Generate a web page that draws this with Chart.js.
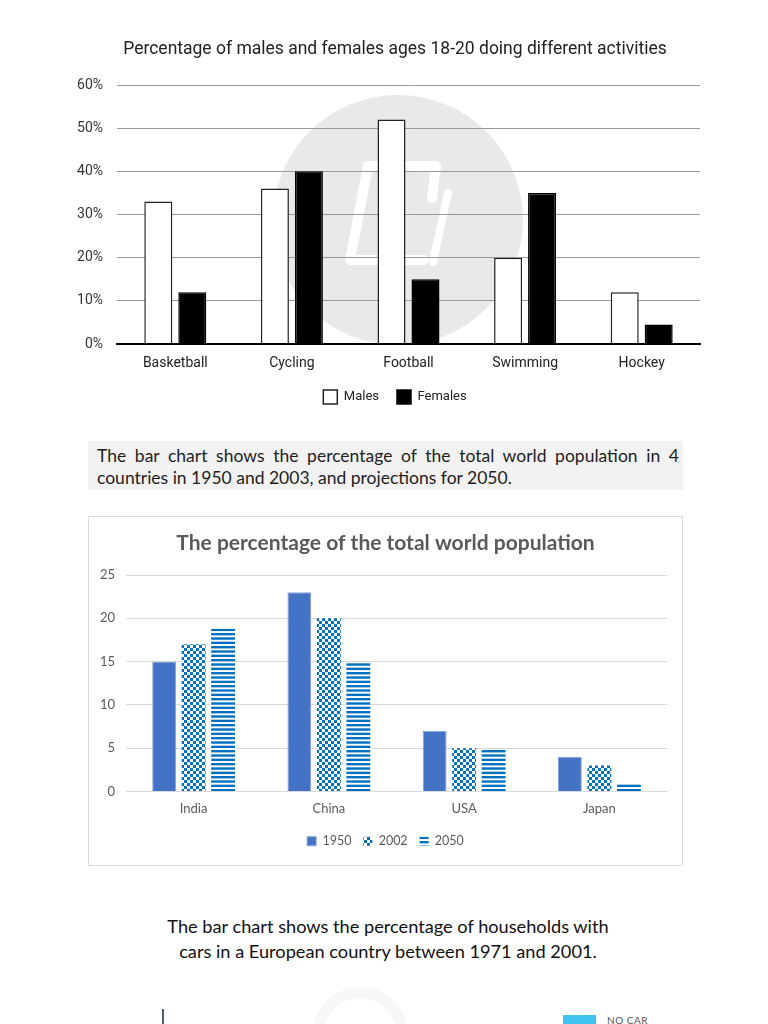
<!DOCTYPE html>
<html>
<head>
<meta charset="utf-8">
<script src="https://cdn.jsdelivr.net/npm/chart.js@4.4.0/dist/chart.umd.min.js"></script>
<style>
  body { margin:0; width:768px; height:1024px; overflow:hidden; background:#fff; position:relative; font-family: Lato, sans-serif; }
  #c1 { position:absolute; left:60px; top:0; }
  #box2 { position:absolute; left:88px; top:441px; width:595px; height:49px; background:#f2f2f2; box-sizing:border-box; padding:4px 4px 0 9px; font:17.5px/22px Lato; color:#1e1e1e; }
  #box2 .l1 { text-align:justify; text-align-last:justify; }
  #c2 { position:absolute; left:88px; top:516px; }
  #frame2 { position:absolute; left:88px; top:516px; width:595px; height:350px; border:1px solid #dcdcdc; box-sizing:border-box; pointer-events:none; }
  #txt3 { position:absolute; left:0; width:776px; top:914px; text-align:center; font:18.2px/25px Lato; color:#111; }
  #axis3 { position:absolute; left:162px; top:1009px; width:2px; height:15px; background:#4f5b6e; }
  #ring3 { position:absolute; left:313px; top:987px; width:95px; height:95px; border-radius:50%; border:11px solid #f7f7f7; box-sizing:border-box; }
  #key3 { position:absolute; left:563px; top:1015px; width:33px; height:12px; background:#41c3f2; }
  #lab3 { position:absolute; left:607px; top:1014px; font:10px Lato; color:#555; letter-spacing:0.5px; }
</style>
</head>
<body>
<canvas id="c1" width="670" height="420"></canvas>

<div id="box2">
  <div class="l1">The bar chart shows the percentage of the total world population in 4</div>
  <div>countries in 1950 and 2003, and projections for 2050.</div>
</div>

<canvas id="c2" width="595" height="350"></canvas>
<div id="frame2"></div>

<div id="txt3">The bar chart shows the percentage of households with<br>cars in a European country between 1971 and 2001.</div>
<div id="ring3"></div>
<div id="axis3"></div>
<div id="key3"></div>
<div id="lab3">NO CAR</div>

<script>
// graf 1 - atividades
const activities = ['Basketball', 'Cycling', 'Football', 'Swimming', 'Hockey'];
const males = [33, 36, 52, 20, 12];
const females = [12, 40, 15, 35, 4.5];
const pctTicks = ['0%', '10%', '20%', '30%', '40%', '50%', '60%'];

// graf 2 - populacao
const countries = ['India', 'China', 'USA', 'Japan'];
const pop1950 = [15, 23, 7, 4];
const pop2002 = [17, 20, 5, 3];
const pop2050 = [18.8, 14.9, 4.9, 0.9];
const popTicks = ['0', '5', '10', '15', '20', '25'];

// marca d'agua atras do grafico 1 (coordenadas da pagina, canvas comeca em x=60)
const watermark = {
    id: 'watermark',
    beforeDraw(chart) {
        const g = chart.ctx;
        g.save();
        g.translate(-60, 0);
        g.fillStyle = '#e9e9e9';
        g.beginPath();
        g.arc(398, 220, 125, 0, Math.PI * 2);
        g.fill();
        g.strokeStyle = '#fff';
        g.lineCap = 'round';
        g.lineJoin = 'round';
        g.lineWidth = 10;
        g.beginPath();
        g.moveTo(432, 198);
        g.lineTo(436, 166);
        g.lineTo(368, 166);
        g.lineTo(350, 260);
        g.lineTo(424, 260);
        g.stroke();
        g.lineWidth = 8;
        g.beginPath();
        g.moveTo(448, 193);
        g.lineTo(433, 262);
        g.stroke();
        g.restore();
    }
};

// eixo invisivel na direita so pra reservar espaco e deixar titulo/legenda centralizados
function spacer(w) {
    return {
        position: 'right',
        display: true,
        afterFit: s => { s.width = w; },
        grid: { display: false, drawTicks: false },
        border: { display: false },
        ticks: { display: false }
    };
}

var chart1 = new Chart(document.getElementById('c1').getContext('2d'), {
    type: 'bar',
    data: {
        labels: activities,
        datasets: [{
            label: 'Males',
            data: males,
            backgroundColor: '#ffffff',
            borderColor: '#222',
            borderWidth: 1.5,
            barPercentage: 0.824,
            categoryPercentage: 0.583
        }, {
            label: 'Females',
            data: females,
            backgroundColor: '#000000',
            borderColor: '#000',
            borderWidth: 1.5,
            barPercentage: 0.824,
            categoryPercentage: 0.583
        }]
    },
    options: {
        responsive: false,
        animation: false,
        devicePixelRatio: 1,
        layout: { padding: { left: 0, right: 0, top: 0, bottom: 6 } },
        plugins: {
            title: {
                display: true,
                text: 'Percentage of males and females ages 18-20 doing different activities',
                color: '#222',
                font: { family: 'Roboto', size: 17.5, weight: 'normal' },
                padding: { top: 39, bottom: 25 }
            },
            legend: {
                position: 'bottom',
                labels: {
                    color: '#222',
                    font: { family: 'Roboto', size: 13 },
                    boxWidth: 14,
                    boxHeight: 14,
                    padding: 18
                }
            },
            tooltip: { enabled: false }
        },
        scales: {
            x: {
                afterFit: s => { s.height = 28; },
                grid: { display: false, drawTicks: false },
                border: { color: '#000', width: 2 },
                ticks: { color: '#222', font: { family: 'Roboto', size: 14 }, padding: 11 }
            },
            y: {
                min: 0,
                max: 60,
                afterFit: s => { s.width = 57; },
                border: { display: false },
                grid: {
                    drawTicks: false,
                    color: c => c.tick.value === 0 ? '#000' : '#9a9a9a',
                    lineWidth: c => c.tick.value === 0 ? 2 : 1
                },
                ticks: {
                    stepSize: 10,
                    padding: 14,
                    color: '#333',
                    font: { family: 'Roboto', size: 14 },
                    callback: (v, i) => pctTicks[i]
                }
            },
            yR: spacer(30)
        }
    },
    plugins: [watermark]
});

// padroes para as barras
function checker(ctx, color) {
    const c = document.createElement('canvas');
    c.width = 6; c.height = 6;
    const g = c.getContext('2d');
    g.fillStyle = '#fff';
    g.fillRect(0, 0, 6, 6);
    g.fillStyle = color;
    g.fillRect(0, 0, 3, 3);
    g.fillRect(3, 3, 3, 3);
    return ctx.createPattern(c, 'repeat');
}

function stripes(ctx, color) {
    const c = document.createElement('canvas');
    c.width = 4; c.height = 13;
    const g = c.getContext('2d');
    g.fillStyle = '#fff';
    g.fillRect(0, 0, 4, 13);
    g.fillStyle = color;
    g.fillRect(0, 0, 4, 2.4);
    g.fillRect(0, 4.33, 4, 2.4);
    g.fillRect(0, 8.67, 4, 2.4);
    return ctx.createPattern(c, 'repeat');
}

var ctx2 = document.getElementById('c2').getContext('2d');
var chart2 = new Chart(ctx2, {
    type: 'bar',
    data: {
        labels: countries,
        datasets: [{
            label: '1950',
            data: pop1950,
            backgroundColor: '#4472c4',
            borderColor: '#86a4dc',
            borderWidth: 1,
            barPercentage: 0.81,
            categoryPercentage: 0.654
        }, {
            label: '2002',
            data: pop2002,
            backgroundColor: checker(ctx2, '#0070c0'),
            borderWidth: 0,
            barPercentage: 0.81,
            categoryPercentage: 0.654
        }, {
            label: '2050',
            data: pop2050,
            backgroundColor: stripes(ctx2, '#0070c0'),
            borderWidth: 0,
            barPercentage: 0.81,
            categoryPercentage: 0.654
        }]
    },
    options: {
        responsive: false,
        animation: false,
        devicePixelRatio: 1,
        layout: { padding: { left: 0, right: 0, top: 0, bottom: 8.5 } },
        plugins: {
            title: {
                display: true,
                text: 'The percentage of the total world population',
                color: '#595959',
                font: { family: 'Lato', size: 21, weight: 'bold' },
                padding: { top: 14.4, bottom: 19.4 }
            },
            legend: {
                position: 'bottom',
                labels: {
                    color: '#595959',
                    font: { family: 'Lato', size: 12.5 },
                    boxWidth: 9,
                    boxHeight: 9,
                    padding: 12
                }
            },
            tooltip: { enabled: false }
        },
        scales: {
            x: {
                afterFit: s => { s.height = 31.5; },
                grid: { display: false, drawTicks: false },
                border: { color: '#d9d9d9', width: 1 },
                ticks: { color: '#595959', font: { family: 'Lato', size: 13 }, padding: 10 }
            },
            y: {
                min: 0,
                max: 25,
                afterFit: s => { s.width = 38; },
                border: { display: false },
                grid: { drawTicks: false, color: '#d9d9d9', lineWidth: 1 },
                ticks: {
                    stepSize: 5,
                    padding: 11,
                    color: '#595959',
                    font: { family: 'Lato', size: 13 },
                    callback: (v, i) => popTicks[i]
                }
            },
            yR: spacer(16)
        }
    }
});
</script>
</body>
</html>
